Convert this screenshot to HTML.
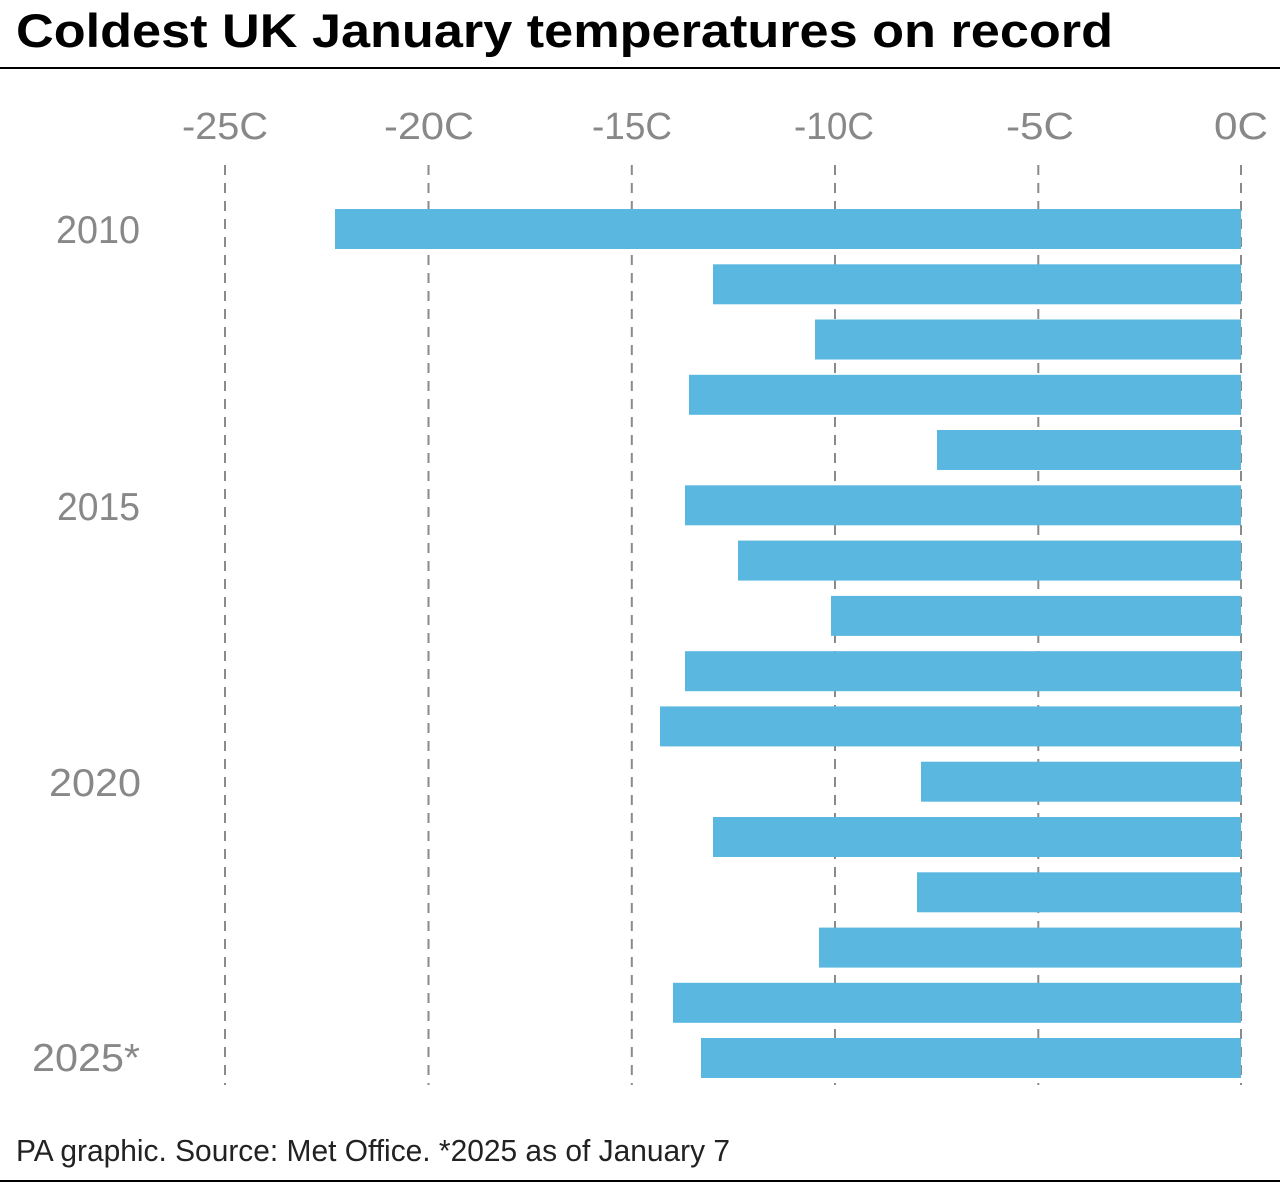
<!DOCTYPE html>
<html><head><meta charset="utf-8"><style>
html,body{margin:0;padding:0;background:#fff;}
svg{display:block;font-family:"Liberation Sans",sans-serif;}
</style></head><body>
<svg width="1280" height="1185" viewBox="0 0 1280 1185">
<text x="16" y="47" font-size="47" font-weight="bold" fill="#000" textLength="1097" lengthAdjust="spacingAndGlyphs">Coldest UK January temperatures on record</text>
<rect x="0" y="67" width="1280" height="2" fill="#000"/>
<g stroke="#8a8a8a" stroke-width="2" stroke-dasharray="10,8">
<line x1="225" y1="165" x2="225" y2="1085"/>
<line x1="428.5" y1="165" x2="428.5" y2="1085"/>
<line x1="631.8" y1="165" x2="631.8" y2="1085"/>
<line x1="835" y1="165" x2="835" y2="1085"/>
<line x1="1038.3" y1="165" x2="1038.3" y2="1085"/>
<line x1="1241" y1="165" x2="1241" y2="1085"/>
</g>
<g font-size="38" fill="#888">
<text x="182" y="139" textLength="86" lengthAdjust="spacingAndGlyphs">-25C</text>
<text x="384" y="139" textLength="90" lengthAdjust="spacingAndGlyphs">-20C</text>
<text x="592" y="139" textLength="80" lengthAdjust="spacingAndGlyphs">-15C</text>
<text x="794" y="139" textLength="80" lengthAdjust="spacingAndGlyphs">-10C</text>
<text x="1006" y="139" textLength="68" lengthAdjust="spacingAndGlyphs">-5C</text>
<text x="1214" y="139" textLength="54" lengthAdjust="spacingAndGlyphs">0C</text>
</g>
<g fill="#5ab8e0">
<rect x="335" y="209" width="906" height="40"/>
<rect x="713" y="264.3" width="528" height="40"/>
<rect x="815" y="319.5" width="426" height="40"/>
<rect x="689" y="374.8" width="552" height="40"/>
<rect x="937" y="430" width="304" height="40"/>
<rect x="685" y="485.3" width="556" height="40"/>
<rect x="738" y="540.6" width="503" height="40"/>
<rect x="831" y="595.9" width="410" height="40"/>
<rect x="685" y="651.2" width="556" height="40"/>
<rect x="660" y="706.4" width="581" height="40"/>
<rect x="921" y="761.7" width="320" height="40"/>
<rect x="713" y="817" width="528" height="40"/>
<rect x="917" y="872.3" width="324" height="40"/>
<rect x="819" y="927.6" width="422" height="40"/>
<rect x="673" y="982.8" width="568" height="40"/>
<rect x="701" y="1038" width="540" height="40"/>
</g>
<g font-size="39" fill="#888">
<text x="56" y="243" textLength="84" lengthAdjust="spacingAndGlyphs">2010</text>
<text x="57" y="520" textLength="83" lengthAdjust="spacingAndGlyphs">2015</text>
<text x="49" y="796" textLength="92" lengthAdjust="spacingAndGlyphs">2020</text>
<text x="32" y="1071" textLength="108" lengthAdjust="spacingAndGlyphs">2025*</text>
</g>
<text x="16" y="1161" font-size="31" fill="#222" textLength="714" lengthAdjust="spacingAndGlyphs">PA graphic. Source: Met Office. *2025 as of January 7</text>
<rect x="0" y="1180" width="1280" height="2" fill="#000"/>
</svg>
</body></html>
